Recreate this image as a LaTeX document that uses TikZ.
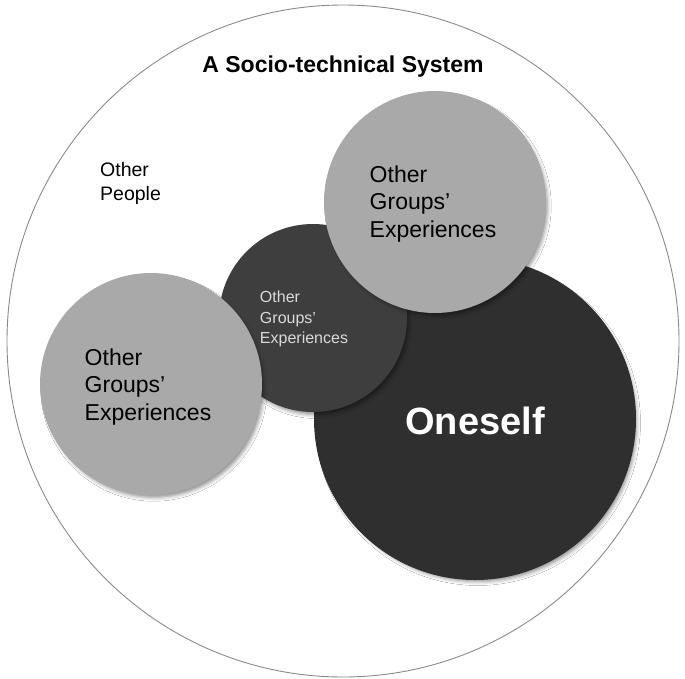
\documentclass[tikz,border=0pt]{standalone}
\usepackage{fontspec}
\setmainfont{Liberation Sans}
\usetikzlibrary{shadows.blur}
\definecolor{lightdisc}{HTML}{A9A9A9}
\definecolor{middisc}{HTML}{3E3E3E}
\definecolor{selfdisc}{HTML}{2F2F2F}
\definecolor{midtext}{HTML}{DADADA}
\definecolor{rimline}{HTML}{8A8A8A}
\begin{document}
\begin{tikzpicture}[x=1pt,y=-1pt,
  disc/.style={circle, inner sep=0pt, draw=none,
    blur shadow={shadow xshift=3pt, shadow yshift=-4pt, shadow scale=0.985, shadow blur radius=4pt, shadow opacity=45}},
  biglabel/.style={align=left, font=\fontsize{23}{27.5}\selectfont, text=black},
  midlabel/.style={align=left, font=\fontsize{16}{20.5}\selectfont, text=midtext},
  titlefont/.style={font=\fontsize{23}{27}\selectfont\bfseries, anchor=base}]
\useasboundingbox (0,0) rectangle (685,678);
\fill[white] (0,0) rectangle (685,678);
\node[circle, draw=rimline, line width=0.9pt, minimum size=672pt, inner sep=0pt] (sys) at (343,341) {};
\node[titlefont] (title) at (343,72) {A Socio-technical System};
\node[align=left, anchor=north west, font=\fontsize{19.5}{24}\selectfont, inner sep=0pt] (people) at (100,162) {Other\\People};
% discs, back to front
\node[disc, fill=selfdisc, minimum size=322pt] (self) at (475,419) {};
\node[text=white, font=\fontsize{38}{40}\selectfont\bfseries] (selftext) at (475,421) {Oneself};
\node[disc, fill=middisc, minimum size=188pt] (mid) at (313,318) {};
\node[midlabel] (midtext) at (304,319) {Other\\Groups’\\Experiences};
\node[disc, fill=lightdisc, minimum size=222pt] (left) at (151,384) {};
\node[biglabel] (lefttext) at (148,387) {Other\\Groups’\\Experiences};
\node[disc, fill=lightdisc, minimum size=222pt] (top) at (435,202) {};
\node[biglabel] (toptext) at (433,204) {Other\\Groups’\\Experiences};
\end{tikzpicture}
\end{document}
